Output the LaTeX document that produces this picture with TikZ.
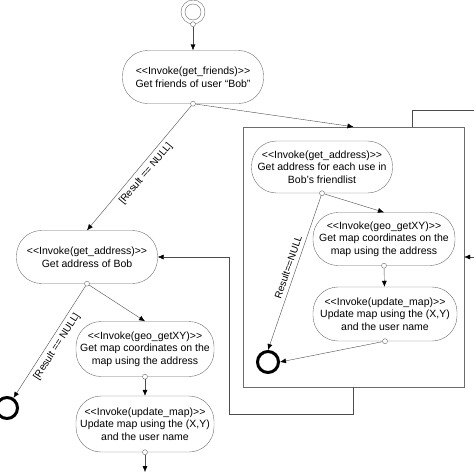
\documentclass[tikz,border=0pt]{standalone}
\usepackage{fontspec}
\setsansfont{Liberation Sans}
\usetikzlibrary{arrows.meta}

\tikzset{
  act/.style={draw=gray!85!black, rounded corners=25pt, minimum width=141pt,
    minimum height=53pt, inner sep=0pt, align=center,
    font=\sffamily\fontsize{10.5}{12.5}\selectfont},
  port/.style={circle, draw=gray!85!black, fill=white, inner sep=0pt, minimum size=5pt},
  flow/.style={draw=gray!60!black, -{Latex[length=6pt,width=5pt,black]}},
  endnode/.style={circle, draw=black, line width=3pt, inner sep=0pt, minimum size=21pt},
  guard/.style={font=\sffamily\fontsize{10}{12}\selectfont, sloped, inner sep=4pt}
}

\begin{document}
\begin{tikzpicture}[x=1pt, y=-1pt]
  \useasboundingbox (0,0) rectangle (474,474);

  % initial node
  \node[circle, draw=gray!85!black, minimum size=24pt, inner sep=0pt] (start) at (193,12) {};
  \node[circle, draw=gray!85!black, minimum size=16pt, inner sep=0pt] at (start) {};
  \node[port] (p0) at (start.south) {};

  % actions
  \node[act] (friends) at (193,77) {<{}<Invoke(get\_friends)>{}>\\Get friends of user “Bob”};
  \node[act] (bob) at (87,257) {<{}<Invoke(get\_address)>{}>\\Get address of Bob};
  \node[act, minimum width=138pt, minimum height=55pt] (geoB) at (145,349)
    {<{}<Invoke(geo\_getXY)>{}>\\Get map coordinates on the\\map using the address};
  \node[act, minimum width=138pt, minimum height=56pt] (updB) at (145,424)
    {<{}<Invoke(update\_map)>{}>\\Update map using the (X,Y)\\and the user name};

  % loop region
  \node[draw=gray!85!black, minimum width=221pt, minimum height=260pt, inner sep=0pt] (loop) at (353.5,257) {};
  \node[act, minimum height=52pt] (each) at (322,167)
    {<{}<Invoke(get\_address)>{}>\\Get address for each use in\\Bob’s friendlist};
  \node[act, minimum width=142pt] (geoA) at (384,239)
    {<{}<Invoke(geo\_getXY)>{}>\\Get map coordinates on the\\map using the address};
  \node[act, minimum width=144pt, minimum height=54pt] (updA) at (385,314)
    {<{}<Invoke(update\_map)>{}>\\Update map using the (X,Y)\\and the user name};

  % final nodes
  \node[endnode] (endA) at (268,362) {};
  \node[endnode] (endB) at (7,408) {};

  % ports
  \node[port] (p1) at (friends.south) {};
  \node[port] (p2) at (bob.south) {};
  \node[port] (p3) at (geoB.south) {};
  \node[port] (p4) at (updB.south) {};
  \node[port] (p5) at (each.south) {};
  \node[port] (p6) at (geoA.south) {};
  \node[port] (p7) at (updA.south) {};

  % helper points
  \coordinate (back) at (229,414);
  \coordinate (up) at (412,127);
  \coordinate (over) at (482,110);
  \coordinate (out) at (145,472);

  % flows
  \draw[flow] (p0) -- (friends);
  \draw[flow] (p1) -- node[guard, below] {[Result == NULL]} (bob.north);
  \draw[flow] (p1) -- (loop.north);
  \draw[flow] (p2) -- node[guard, below] {[Result == NULL]} (endB);
  \draw[flow] (p2) -- (geoB.north);
  \draw[flow] (p3) -- (updB);
  \draw[flow] (p4) -- (out);
  \draw[flow] (p5) -- (geoA.north);
  \draw[flow] (p5) -- node[guard, above, pos=.48] {Result==NULL} (endA.north);
  \draw[flow] (p6) -- (updA);
  \draw[flow] (p7) -- (endA.east);

  % loop back
  \draw[flow] (loop.south) |- (back) |- (bob.east);
  \draw[flow] (up) |- (over) |- (loop.east);
\end{tikzpicture}
\end{document}
